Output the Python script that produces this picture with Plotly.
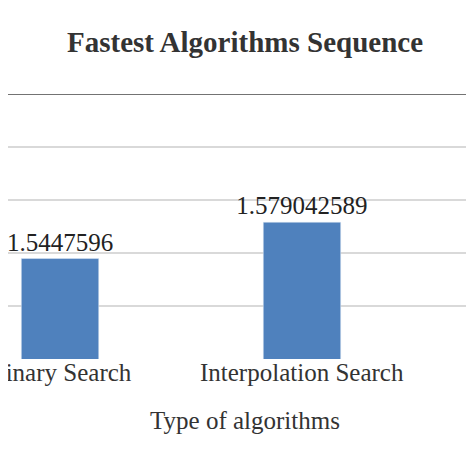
import plotly.graph_objects as go

categories = ["Binary Search", "Interpolation Search", "Linear Search"]
values = [1.5447596, 1.579042589, 1.69]
labels = ["1.5447596", "1.579042589", ""]
y_ticks = [1.45, 1.50, 1.55, 1.60, 1.65, 1.70]

xs = list(range(len(categories)))
font = "Liberation Serif, Times New Roman, serif"

fig = go.Figure(go.Bar(
    x=xs, y=values, width=0.32, marker_color="#4F81BD",
    text=labels, textposition="outside", cliponaxis=False, constraintext="none",
    textfont=dict(family=font, size=25, color="#222"),
))

for i, c in zip(xs, categories):
    fig.add_annotation(x=i, y=0, xref="x", yref="paper", yshift=-29, text=c,
                       showarrow=False, font=dict(family=font, size=25, color="#333"))

fig.add_shape(type="line", xref="paper", yref="y", x0=0, x1=0.975,
              y0=y_ticks[-1], y1=y_ticks[-1], line=dict(color="#444", width=1.5))
fig.add_annotation(x=1, y=y_ticks[-1], xref="paper", yref="y", xanchor="right", xshift=-2,
                   text="1", showarrow=False, font=dict(family=font, size=25, color="#222"))

fig.update_layout(
    width=474, height=474,
    margin=dict(l=0, r=0, t=86, b=123),
    plot_bgcolor="white", paper_bgcolor="white",
    showlegend=False,
    title=dict(text="<b>Fastest Algorithms Sequence</b>", x=0.5, xanchor="center",
               y=1 - 34 / 474, yanchor="middle",
               font=dict(family=font, size=29, color="#333")),
    xaxis=dict(range=[-0.215, 1.744], showticklabels=False, showgrid=False,
               zeroline=False, title=dict(text="Type of algorithms", standoff=52,
               font=dict(family=font, size=25, color="#333"))),
    yaxis=dict(range=[y_ticks[0], y_ticks[-1]], tickvals=y_ticks, showticklabels=False,
               showgrid=True, gridcolor="#d9d9d9", gridwidth=1.5, zeroline=False),
)
fig.write_html("out.html")
